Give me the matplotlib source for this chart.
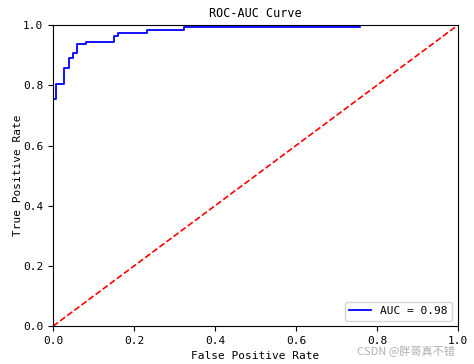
import matplotlib
matplotlib.use('Agg')
import matplotlib.pyplot as plt

# roc curve points
fpr = [0.0, 0.0, 0.008, 0.008, 0.027, 0.027, 0.039, 0.039, 0.049, 0.049,
       0.059, 0.059, 0.081, 0.081, 0.150, 0.150, 0.160, 0.160, 0.231, 0.231,
       0.323, 0.323, 0.758, 0.758, 1.0]
tpr = [0.0, 0.756, 0.756, 0.806, 0.806, 0.856, 0.856, 0.892, 0.892, 0.906,
       0.906, 0.936, 0.936, 0.944, 0.944, 0.964, 0.964, 0.973, 0.973, 0.983,
       0.983, 0.994, 0.994, 1.0, 1.0]
auc_value = 0.98
diag = [0, 1]

plt.rcParams['font.family'] = ['DejaVu Sans Mono', 'Noto Sans CJK SC']
plt.rcParams['font.size'] = 8

fig = plt.figure(figsize=(4.74, 3.64), dpi=100)
ax = fig.add_axes([0.112, 0.104, 0.854, 0.827])

ax.plot(fpr, tpr, color='b', linewidth=1.3, label='AUC = %0.2f' % auc_value)
ax.plot(diag, diag, 'r--', linewidth=1.2)
ax.set_xlim(0, 1)
ax.set_ylim(0, 1)
ax.set_title('ROC-AUC Curve', fontsize=8.5)
ax.set_xlabel('False Positive Rate', fontsize=8)
ax.set_ylabel('True Positive Rate', fontsize=8, labelpad=0)
ax.legend(loc='lower right', fontsize=8)

fig.text(0.96, 0.02, 'CSDN @胖哥真不错', color='#b0b0b0', fontsize=8,
         ha='right', va='bottom', family=['Noto Sans CJK SC', 'DejaVu Sans'])

fig.savefig('out.png', dpi=100)
